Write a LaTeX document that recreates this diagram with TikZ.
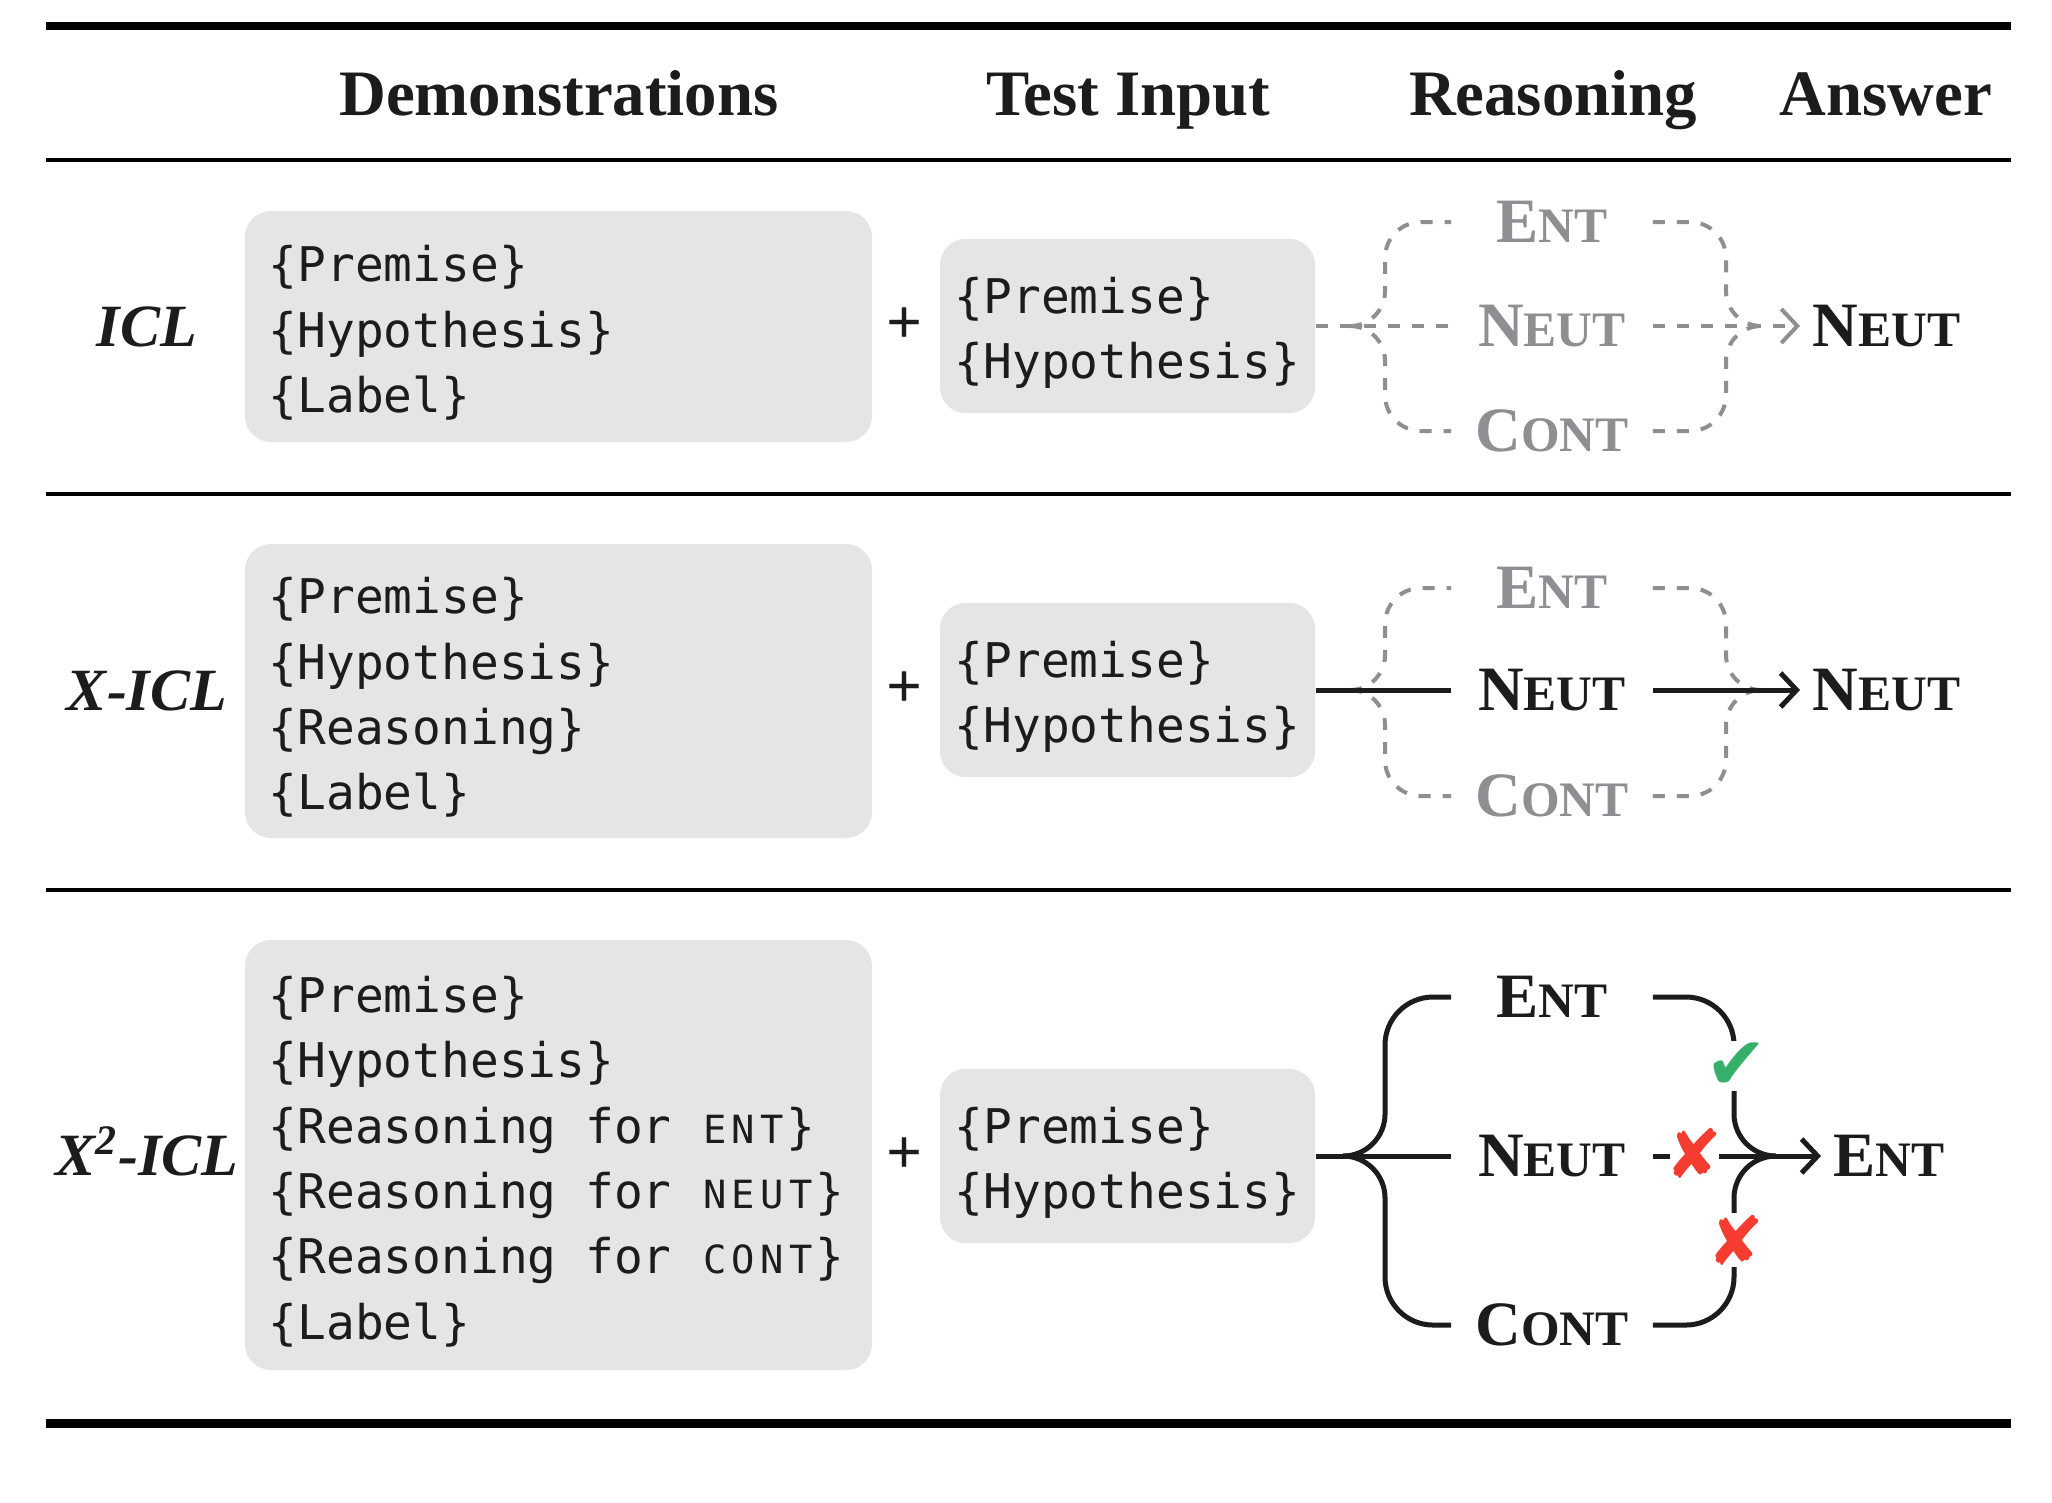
\documentclass[tikz,border=0pt]{standalone}
\usepackage{fontspec}
\setmainfont{Liberation Serif}
\newfontfamily\monof{DejaVu Sans Mono}
\newfontfamily\symf{DejaVu Sans}
\usetikzlibrary{arrows.meta,calc}
\definecolor{txt}{RGB}{28,28,30}
\definecolor{lg}{RGB}{142,142,147}
\definecolor{boxc}{RGB}{229,229,231}
\definecolor{okc}{RGB}{52,176,106}
\definecolor{badc}{RGB}{244,60,48}
\newlength\mcw
\newcommand\ssc[2]{#1{\fontsize{12.4pt}{12.4pt}\selectfont #2}}
\newcommand\msc[1]{\settowidth{\mcw}{0}\makebox[\mcw][c]{\fontsize{9.7pt}{9.7pt}\selectfont #1}}
\begin{document}
\begin{tikzpicture}[x=0.25pt,y=-0.25pt,
  rulethick/.style={line width=2.1pt, draw=black},
  rulethin/.style={line width=1.2pt, draw=black},
  hdr/.style={font=\fontsize{16.2pt}{18pt}\selectfont\bfseries, text=txt, anchor=base, inner sep=0pt},
  rowlab/.style={font=\fontsize{15pt}{18pt}\selectfont\bfseries\itshape, text=txt, anchor=base, inner sep=0pt},
  boxbg/.style={fill=boxc, rounded corners=6.5pt, inner sep=0pt},
  demobox/.style={boxbg, minimum width=156.75pt},
  testbox/.style={boxbg, minimum width=93.75pt, minimum height=43.6pt},
  monotext/.style={anchor=west, align=left, inner sep=0pt, font=\monof\fontsize{11.95pt}{16.35pt}\selectfont, text=txt},
  plussign/.style={font=\fontsize{15.8pt}{18pt}\selectfont\bfseries, text=txt, inner sep=0pt},
  lab/.style={font=\fontsize{15.8pt}{18pt}\selectfont\bfseries, minimum width=50pt, inner sep=0pt, text=txt},
  glab/.style={lab, text=lg},
  ans/.style={font=\fontsize{15.8pt}{18pt}\selectfont\bfseries, anchor=west, inner xsep=3pt, inner ysep=0pt, text=txt},
  sline/.style={line width=1.25pt, draw=txt},
  dline/.style={line width=1pt, draw=lg, dash pattern=on 3pt off 3pt},
  arr/.style={-{Straight Barb[length=4pt,width=8.5pt]}},
  okmark/.style={font=\symf\fontsize{18.5pt}{18.5pt}\selectfont, text=okc, fill=white, inner xsep=0.5pt, inner ysep=0.3pt},
  badmark/.style={font=\symf\fontsize{17pt}{17pt}\selectfont, text=badc, fill=white, inner xsep=0.5pt, inner ysep=0.5pt}
]
\fill[white] (0,0) rectangle (2052,1502);
\useasboundingbox (0,0) rectangle (2052,1502);

% rules
\draw[rulethick] (46,25.8) -- (2011,25.8);
\draw[rulethin] (46,160) -- (2011,160);
\draw[rulethin] (46,494) -- (2011,494);
\draw[rulethin] (46,890) -- (2011,890);
\draw[rulethick] (46,1423.5) -- (2011,1423.5);

% headers
\node[hdr] (hdemo) at (559,115) {Demonstrations};
\node[hdr] (htest) at (1128,115) {Test Input};
\node[hdr] (hreas) at (1553,115) {Reasoning};
\node[hdr] (hans) at (1886,115) {Answer};

% row labels
\node[rowlab] (r1) at (147,346) {ICL};
\node[rowlab] (r2) at (147,710) {X-ICL};
\node[rowlab] (r3) at (147,1175) {X\textsuperscript{2}-ICL};

% demonstration boxes
\node[demobox, minimum height=57.75pt] (demo1) at (558.5,326.5) {};
\node[demobox, minimum height=73.5pt] (demo2) at (558.5,691) {};
\node[demobox, minimum height=107.5pt] (demo3) at (558.5,1155) {};
\node[monotext] (demo1t) at (268,333) {\{Premise\}\\\{Hypothesis\}\\\{Label\}};
\node[monotext] (demo2t) at (268,697.5) {\{Premise\}\\\{Hypothesis\}\\\{Reasoning\}\\\{Label\}};
\node[monotext] (demo3t) at (268,1161.5) {\{Premise\}\\\{Hypothesis\}\\\{Reasoning for \msc{E}\msc{N}\msc{T}\}\\\{Reasoning for \msc{N}\msc{E}\msc{U}\msc{T}\}\\\{Reasoning for \msc{C}\msc{O}\msc{N}\msc{T}\}\\\{Label\}};

% plus signs
\node[plussign] (p1) at (904,326) {+};
\node[plussign] (p2) at (904,690) {+};
\node[plussign] (p3) at (904,1156) {+};

% test boxes
\node[testbox] (test1) at (1127.5,326) {};
\node[testbox] (test2) at (1127.5,690) {};
\node[testbox] (test3) at (1127.5,1156) {};
\node[monotext] (test1t) at (954,332.5) {\{Premise\}\\\{Hypothesis\}};
\node[monotext] (test2t) at (954,696.5) {\{Premise\}\\\{Hypothesis\}};
\node[monotext] (test3t) at (954,1162.5) {\{Premise\}\\\{Hypothesis\}};

% reasoning labels
\node[glab] (ent1) at (1552,222) {\ssc{E}{NT}};
\node[glab] (neut1) at (1552,326) {\ssc{N}{EUT}};
\node[glab] (cont1) at (1552,431) {\ssc{C}{ONT}};
\node[glab] (ent2) at (1552,588) {\ssc{E}{NT}};
\node[lab] (neut2) at (1552,690) {\ssc{N}{EUT}};
\node[glab] (cont2) at (1552,796) {\ssc{C}{ONT}};
\node[lab] (ent3) at (1552,997) {\ssc{E}{NT}};
\node[lab] (neut3) at (1552,1156) {\ssc{N}{EUT}};
\node[lab] (cont3) at (1552,1325) {\ssc{C}{ONT}};

% answers
\node[ans] (ans1) at (1800,326) {\ssc{N}{EUT}};
\node[ans] (ans2) at (1800,690) {\ssc{N}{EUT}};
\node[ans] (ans3) at (1821,1156) {\ssc{E}{NT}};

% brace tips
\coordinate (tl1) at (1350,326);
\coordinate (tr1) at (1761,326);
\coordinate (tl2) at (1350,690);
\coordinate (tr2) at (1761,690);
\coordinate (tl3) at (1343,1156);
\coordinate (tr3) at (1776,1156);

% row 1
\draw[dline] (tl1) .. controls (1369.3,326) and (1385,310.3) .. (1385,291) -- (1385,258) .. controls (1385,238.1) and (1401.1,222) .. (1421,222) -- (ent1.west);
\draw[dline] (tl1) .. controls (1369.3,326) and (1385,341.7) .. (1385,361) -- (1385,395) .. controls (1385,414.9) and (1401.1,431) .. (1421,431) -- (cont1.west);
\draw[dline] (ent1.east) -- (1690,222) .. controls (1709.9,222) and (1726,238.1) .. (1726,258) -- (1726,291) .. controls (1726,310.3) and (1741.7,326) .. (tr1);
\draw[dline] (cont1.east) -- (1690,431) .. controls (1709.9,431) and (1726,414.9) .. (1726,395) -- (1726,361) .. controls (1726,341.7) and (1741.7,326) .. (tr1);
\draw[dline] (test1.east) -- (neut1.west);
\draw[dline, arr] (neut1.east) -- (ans1.west);

% row 2
\draw[dline] (tl2) .. controls (1369.3,690) and (1385,674.3) .. (1385,655) -- (1385,624) .. controls (1385,604.1) and (1401.1,588) .. (1421,588) -- (ent2.west);
\draw[dline] (tl2) .. controls (1369.3,690) and (1385,705.7) .. (1385,725) -- (1385,760) .. controls (1385,779.9) and (1401.1,796) .. (1421,796) -- (cont2.west);
\draw[dline] (ent2.east) -- (1690,588) .. controls (1709.9,588) and (1726,604.1) .. (1726,624) -- (1726,655) .. controls (1726,674.3) and (1741.7,690) .. (tr2);
\draw[dline] (cont2.east) -- (1690,796) .. controls (1709.9,796) and (1726,779.9) .. (1726,760) -- (1726,725) .. controls (1726,705.7) and (1741.7,690) .. (tr2);
\draw[sline] (test2.east) -- (neut2.west);
\draw[sline, arr] (neut2.east) -- (ans2.west);

% row 3
\draw[sline] (tl3) .. controls (1366.2,1156) and (1385,1137.2) .. (1385,1114) -- (1385,1045) .. controls (1385,1018.5) and (1406.5,997) .. (1433,997) -- (ent3.west);
\draw[sline] (tl3) .. controls (1366.2,1156) and (1385,1174.8) .. (1385,1198) -- (1385,1277) .. controls (1385,1303.5) and (1406.5,1325) .. (1433,1325) -- (cont3.west);
\draw[sline] (ent3.east) -- (1686,997) .. controls (1712.5,997) and (1734,1018.5) .. (1734,1045) -- (1734,1114) .. controls (1734,1137.2) and (1752.8,1156) .. (tr3);
\draw[sline] (cont3.east) -- (1686,1325) .. controls (1712.5,1325) and (1734,1303.5) .. (1734,1277) -- (1734,1198) .. controls (1734,1174.8) and (1752.8,1156) .. (tr3);
\draw[sline] (test3.east) -- (neut3.west);
\draw[sline, arr] (neut3.east) -- (ans3.west);

% marks
\node[okmark] (chk) at (1736,1066) {✔};
\node[badmark, inner xsep=-1pt] (xa) at (1694,1153) {✘};
\node[badmark] (xb) at (1736,1240) {✘};
\end{tikzpicture}
\end{document}
